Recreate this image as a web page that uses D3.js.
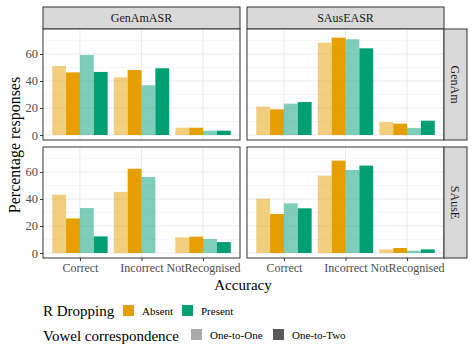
<!DOCTYPE html>
<html><head><meta charset="utf-8">
<script src="https://cdn.jsdelivr.net/npm/d3@7"></script>
<style>body{margin:0;background:#fff}svg{display:block}svg text{font-family:"Liberation Serif","Times New Roman",serif}</style>
</head><body>
<script>
const categories = ["Correct", "Incorrect", "NotRecognised"];
const asrCols = ["GenAmASR", "SAusEASR"];
const accentRows = ["GenAm", "SAusE"];
const groups = ["Absent|One-to-One", "Absent|One-to-Two", "Present|One-to-One", "Present|One-to-Two"];
const yTicks = [0, 20, 40, 60];
// values per category -> [Absent One-to-One, Absent One-to-Two, Present One-to-One, Present One-to-Two]
const genAmASR_GenAm = [[51.1, 46.4, 59.3, 46.7], [42.7, 48.1, 36.8, 49.4], [5.4, 5.4, 3.2, 3.2]];
const sAusEASR_GenAm = [[21.0, 19.0, 23.2, 24.4], [68.4, 72.1, 70.9, 64.2], [9.6, 8.4, 5.2, 10.6]];
const genAmASR_SAusE = [[43.2, 25.6, 33.3, 12.3], [45.2, 62.4, 56.3, null], [11.6, 12.1, 10.4, 8.1]];
const sAusEASR_SAusE = [[40.2, 28.9, 36.8, 33.1], [57.3, 68.4, 61.5, 64.7], [2.7, 3.7, 1.7, 2.7]];

const panelData = {
  "GenAmASR|GenAm": genAmASR_GenAm, "SAusEASR|GenAm": sAusEASR_GenAm,
  "GenAmASR|SAusE": genAmASR_SAusE, "SAusEASR|SAusE": sAusEASR_SAusE
};
const fillCol = {Absent: "#E69F00", Present: "#009E73"};
const alphaV = {"One-to-One": 0.5, "One-to-Two": 1};

const W = 474, H = 350;
const svg = d3.select("body").append("svg").attr("width", W).attr("height", H);

const colX = [[43, 240], [247, 444]];
const rowY = [[29, 140], [147, 258]];

const y0 = d3.scaleLinear().domain([-3.7, 78.5]);

colX.forEach((cx, ci) => {
  const xc = d3.scaleLinear().domain([0.4, 3.6]).range([cx[0], cx[1]]);
  const sub = d3.scaleBand().domain(groups).range([-0.45, 0.45]);

  const strip = svg.append("g");
  strip.append("rect").attr("x", cx[0]).attr("y", 7).attr("width", cx[1] - cx[0]).attr("height", 22)
    .attr("fill", "#D9D9D9").attr("stroke", "#333").attr("stroke-width", 1);
  strip.append("text").attr("x", (cx[0] + cx[1]) / 2).attr("y", 18).attr("dy", "0.35em")
    .attr("text-anchor", "middle").attr("font-size", 12).attr("fill", "#1A1A1A")
    .text(asrCols[ci]);

  rowY.forEach((ry, ri) => {
    const ys = y0.copy().range([ry[1], ry[0]]);
    const g = svg.append("g");
    g.append("rect").attr("x", cx[0]).attr("y", ry[0]).attr("width", cx[1] - cx[0]).attr("height", ry[1] - ry[0]).attr("fill", "#fff");
    [10, 30, 50, 70].forEach(v => g.append("line").attr("x1", cx[0]).attr("x2", cx[1]).attr("y1", ys(v)).attr("y2", ys(v))
      .attr("stroke", "#F2F2F2").attr("stroke-width", 0.6));
    yTicks.forEach(v => g.append("line").attr("x1", cx[0]).attr("x2", cx[1]).attr("y1", ys(v)).attr("y2", ys(v))
      .attr("stroke", "#EBEBEB").attr("stroke-width", 1));
    categories.forEach((c, k) => g.append("line").attr("x1", xc(k + 1)).attr("x2", xc(k + 1)).attr("y1", ry[0]).attr("y2", ry[1])
      .attr("stroke", "#EBEBEB").attr("stroke-width", 1));
    const vals = panelData[asrCols[ci] + "|" + accentRows[ri]];
    categories.forEach((c, k) => {
      groups.forEach((gr, j) => {
        const v = vals[k][j];
        if (v == null) return;
        const [rd, vc] = gr.split("|");
        const xl = xc(k + 1 + sub(gr)), xr = xc(k + 1 + sub(gr) + sub.bandwidth());
        g.append("rect").attr("x", xl).attr("width", xr - xl).attr("y", ys(v)).attr("height", ys(0) - ys(v))
          .attr("fill", fillCol[rd]).attr("fill-opacity", alphaV[vc]);
      });
    });
    g.append("rect").attr("x", cx[0]).attr("y", ry[0]).attr("width", cx[1] - cx[0]).attr("height", ry[1] - ry[0])
      .attr("fill", "none").attr("stroke", "#333").attr("stroke-width", 1);

    if (ci === 0) {
      const ax = d3.axisLeft(ys).tickValues(yTicks).tickSize(3).tickPadding(2);
      const a = svg.append("g").attr("transform", `translate(${cx[0]},0)`).call(ax);
      a.attr("font-family", null);
      a.select(".domain").remove();
      a.selectAll("line").attr("stroke", "#333");
      a.selectAll("text").attr("font-size", 12.5).attr("fill", "#4D4D4D");
    }
    if (ri === 1) {
      const ax = d3.axisBottom(xc).tickValues([1, 2, 3]).tickFormat(d => categories[d - 1]).tickSize(3).tickPadding(2);
      const a = svg.append("g").attr("transform", `translate(0,${ry[1]})`).call(ax);
      a.attr("font-family", null);
      a.select(".domain").remove();
      a.selectAll("line").attr("stroke", "#333");
      a.selectAll("text").attr("font-size", 12).attr("fill", "#4D4D4D");
    }
    if (ci === 1) {
      svg.append("rect").attr("x", 444).attr("y", ry[0]).attr("width", 23).attr("height", ry[1] - ry[0])
        .attr("fill", "#D9D9D9").attr("stroke", "#333").attr("stroke-width", 1);
      svg.append("text").attr("transform", `translate(455.5,${(ry[0] + ry[1]) / 2}) rotate(90)`)
        .attr("text-anchor", "middle").attr("dy", "0.35em").attr("font-size", 12)
        .attr("fill", "#1A1A1A").text(accentRows[ri]);
    }
  });
});

svg.append("text").attr("x", 243).attr("y", 290).attr("text-anchor", "middle")
  .attr("font-size", 15).attr("fill", "#000").text("Accuracy");
svg.append("text").attr("transform", "translate(14,145) rotate(-90)").attr("text-anchor", "middle").attr("dy", "0.35em")
  .attr("font-size", 16).attr("fill", "#000").text("Percentage responses");

const leg1 = [{label: "Absent", color: "#E69F00", x: 123}, {label: "Present", color: "#009E73", x: 182}];
const leg2 = [{label: "One-to-One", color: "#AAAAAA", x: 191}, {label: "One-to-Two", color: "#595959", x: 273}];
svg.append("text").attr("x", 43).attr("y", 316).attr("font-size", 15).text("R Dropping");
leg1.forEach(d => {
  svg.append("rect").attr("x", d.x).attr("y", 305).attr("width", 11).attr("height", 11).attr("fill", d.color);
  svg.append("text").attr("x", d.x + 19).attr("y", 314.5).attr("font-size", 11).text(d.label);
});
svg.append("text").attr("x", 43).attr("y", 341).attr("font-size", 15).text("Vowel correspondence");
leg2.forEach(d => {
  svg.append("rect").attr("x", d.x).attr("y", 329).attr("width", 11).attr("height", 11).attr("fill", d.color);
  svg.append("text").attr("x", d.x + 19).attr("y", 338.5).attr("font-size", 11).text(d.label);
});
</script>
</body></html>
